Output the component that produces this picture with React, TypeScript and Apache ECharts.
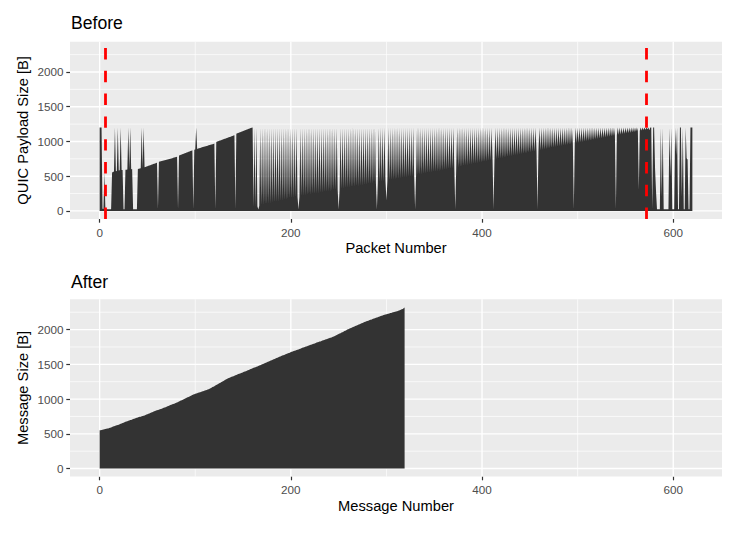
import React, { useEffect, useRef } from "react";
import * as echarts from "echarts";

// "Before": QUIC payload size of each packet (index = packet number)
const PACKET_SIZES = [
  1200, 1200, 1200, 30, 28, 560, 30, 25, 25, 25,
  26, 25, 25, 555, 562, 566, 1200, 571, 575, 1200,
  582, 586, 1200, 589, 590, 25, 26, 592, 594, 596,
  1200, 598, 1200, 600, 602, 25, 25, 24, 25, 25,
  604, 607, 610, 613, 1200, 618, 1200, 630, 634, 639,
  644, 649, 654, 659, 664, 669, 674, 679, 684, 689,
  692, 25, 708, 712, 715, 719, 722, 726, 729, 733,
  737, 740, 744, 748, 752, 756, 760, 764, 768, 772,
  776, 779, 25, 797, 802, 808, 813, 818, 823, 829,
  834, 840, 845, 851, 857, 862, 868, 874, 25, 880,
  885, 1200, 890, 898, 902, 906, 911, 915, 919, 923,
  927, 931, 935, 940, 944, 948, 952, 957, 961, 965,
  970, 25, 994, 999, 1004, 1009, 1014, 1019, 1024, 1029,
  1034, 1039, 1044, 1049, 1054, 1059, 1064, 1069, 1074, 1079,
  1085, 1090, 25, 1112, 1117, 1123, 1128, 1134, 1139, 1144,
  1150, 1155, 1161, 1166, 1172, 1177, 1183, 1188, 1194, 1199,
  1200, 55, 1200, 61, 1200, 68, 20, 74, 1200, 80,
  1200, 86, 1200, 93, 1200, 99, 1200, 105, 1200, 111,
  1200, 118, 1200, 124, 1200, 130, 1200, 136, 1200, 143,
  1200, 149, 1200, 155, 1200, 161, 1200, 168, 1200, 174,
  1200, 180, 1200, 186, 1200, 193, 1200, 199, 20, 205,
  1200, 210, 1200, 215, 1200, 220, 1200, 225, 1200, 230,
  1200, 235, 1200, 240, 1200, 245, 1200, 250, 1200, 255,
  1200, 260, 1200, 265, 1200, 270, 1200, 275, 1200, 280,
  1200, 285, 1200, 290, 1200, 295, 1200, 300, 1200, 305,
  20, 310, 1200, 315, 1200, 320, 1200, 325, 1200, 330,
  1200, 335, 1200, 340, 1200, 345, 1200, 350, 1200, 355,
  1200, 360, 1200, 365, 1200, 370, 1200, 375, 1200, 380,
  1200, 385, 1200, 390, 1200, 395, 1200, 400, 1200, 405,
  20, 410, 1200, 415, 1200, 420, 1200, 425, 1200, 430,
  150, 435, 1200, 441, 1200, 446, 1200, 451, 1200, 456,
  1200, 461, 1200, 466, 1200, 471, 1200, 476, 1200, 481,
  1200, 486, 1200, 491, 1200, 496, 1200, 501, 1200, 506,
  20, 511, 1200, 516, 1200, 521, 1200, 526, 1200, 531,
  1200, 536, 1200, 541, 1200, 546, 1200, 552, 1200, 557,
  1200, 563, 1200, 569, 1200, 574, 1200, 580, 1200, 586,
  1200, 591, 1200, 597, 1200, 603, 1200, 608, 1200, 614,
  1200, 620, 20, 625, 1200, 631, 1200, 637, 1200, 642,
  1200, 648, 1200, 653, 1200, 659, 1200, 665, 1200, 670,
  1200, 676, 1200, 682, 1200, 687, 1200, 693, 1200, 699,
  1200, 704, 1200, 710, 1200, 716, 1200, 721, 1200, 727,
  1200, 733, 20, 738, 1200, 744, 1200, 750, 1200, 755,
  1200, 761, 1200, 767, 1200, 772, 1200, 778, 1200, 784,
  1200, 789, 1200, 795, 1200, 801, 1200, 806, 1200, 812,
  1200, 817, 1200, 823, 1200, 829, 1200, 834, 1200, 840,
  1200, 846, 1200, 851, 1200, 857, 1200, 863, 20, 868,
  1200, 874, 1200, 880, 1200, 885, 1200, 891, 1200, 897,
  1200, 902, 1200, 908, 1200, 914, 1200, 919, 1200, 925,
  1200, 930, 1200, 935, 1200, 941, 1200, 946, 1200, 951,
  1200, 957, 1200, 962, 1200, 967, 20, 973, 1200, 978,
  1200, 983, 1200, 989, 1200, 994, 1200, 999, 1200, 1005,
  1200, 1010, 1200, 1015, 1200, 1021, 1200, 1026, 1200, 1031,
  1200, 1037, 1200, 1042, 1200, 1047, 1200, 1053, 1200, 1058,
  1200, 1063, 1200, 1069, 1200, 1074, 1200, 1079, 1200, 1085,
  20, 1090, 1200, 1095, 1200, 1101, 1200, 1106, 1200, 1111,
  1200, 1117, 1200, 1122, 1200, 1127, 1200, 1133, 1200, 1138,
  1200, 1143, 1200, 1149, 300, 1154, 1200, 1159, 1200, 1165,
  1200, 1170, 1200, 1175, 1200, 1160, 1200, 1200, 30, 1200,
  1200, 600, 280, 25, 25, 25, 25, 1200, 200, 1200,
  25, 25, 25, 25, 25, 25, 1200, 500, 1200, 25,
  25, 25, 1200, 800, 1200, 25, 25, 1200, 1200, 200,
  1200, 25, 25, 1200, 760, 740, 25, 25, 1200, 1200, 1200,
];

// "After": size of each message (index = message number)
const MESSAGE_SIZES = [
  551, 552, 555, 557, 561, 564, 568, 571, 575, 578,
  582, 588, 592, 598, 604, 608, 613, 619, 623, 628,
  632, 639, 644, 648, 655, 660, 666, 672, 677, 682,
  688, 693, 697, 700, 706, 712, 716, 720, 727, 731,
  736, 741, 744, 747, 751, 756, 760, 765, 772, 777,
  783, 790, 794, 799, 806, 812, 816, 823, 830, 834,
  840, 844, 848, 853, 857, 861, 868, 874, 879, 884,
  891, 897, 901, 907, 914, 918, 924, 930, 934, 939,
  946, 951, 957, 965, 972, 978, 984, 991, 999, 1005,
  1010, 1018, 1026, 1031, 1037, 1045, 1053, 1058, 1065, 1070,
  1076, 1079, 1084, 1090, 1094, 1097, 1103, 1109, 1112, 1116,
  1122, 1128, 1131, 1137, 1143, 1149, 1155, 1163, 1172, 1178,
  1185, 1194, 1203, 1209, 1218, 1227, 1233, 1242, 1251, 1257,
  1265, 1275, 1282, 1289, 1297, 1304, 1308, 1314, 1321, 1325,
  1330, 1337, 1342, 1346, 1353, 1359, 1363, 1368, 1375, 1380,
  1385, 1392, 1398, 1402, 1409, 1415, 1419, 1426, 1432, 1436,
  1442, 1449, 1453, 1458, 1466, 1470, 1475, 1483, 1488, 1493,
  1501, 1506, 1511, 1519, 1524, 1529, 1537, 1542, 1547, 1555,
  1560, 1565, 1573, 1578, 1583, 1591, 1596, 1601, 1609, 1614,
  1619, 1627, 1631, 1636, 1643, 1648, 1652, 1660, 1664, 1668,
  1676, 1680, 1684, 1691, 1695, 1699, 1706, 1710, 1715, 1722,
  1726, 1732, 1738, 1741, 1747, 1753, 1756, 1762, 1768, 1771,
  1777, 1783, 1786, 1792, 1798, 1801, 1807, 1813, 1816, 1822,
  1827, 1830, 1836, 1842, 1845, 1851, 1857, 1860, 1866, 1871,
  1875, 1881, 1884, 1889, 1896, 1901, 1907, 1916, 1921, 1928,
  1937, 1942, 1949, 1958, 1963, 1970, 1979, 1984, 1991, 2000,
  2005, 2011, 2019, 2023, 2029, 2037, 2041, 2047, 2055, 2059,
  2065, 2073, 2077, 2083, 2091, 2095, 2101, 2109, 2113, 2119,
  2125, 2128, 2134, 2140, 2143, 2149, 2155, 2158, 2164, 2170,
  2173, 2179, 2185, 2188, 2194, 2200, 2203, 2209, 2214, 2216,
  2221, 2226, 2228, 2233, 2238, 2240, 2245, 2250, 2252, 2257,
  2262, 2264, 2269, 2274, 2277, 2284, 2291, 2298, 2308, 2318,
];

const CAPTURE_MARKERS = [6, 572];
const X_TICKS = [0, 200, 400, 600];
const X_MINOR = [100, 300, 500];
const Y_TICKS = [0, 500, 1000, 1500, 2000];
const Y_MINOR = [250, 750, 1250, 1750, 2250];
const PANEL_TITLES = ["Before", "After"];
const X_NAMES = ["Packet Number", "Message Number"];
const Y_NAMES = ["QUIC Payload Size [B]", "Message Size [B]"];

const FONT = "'Liberation Sans', Arial, Helvetica, sans-serif";
const X_MIN = -31;
const X_MAX = 651;
const Y_MIN = -116;
const Y_MAX = 2436;

const GRID_TOPS = [41.7, 299.3];
const PANEL_H = 177.3;
const TITLE_Y = [23, 282];

function gridLineData() {
  return [
    ...X_TICKS.map((v) => [0, v, 1]),
    ...X_MINOR.map((v) => [0, v, 0]),
    ...Y_TICKS.map((v) => [1, v, 1]),
    ...Y_MINOR.map((v) => [1, v, 0]),
  ];
}

function renderGridLine(params: any, api: any) {
  const orient = api.value(0);
  const v = api.value(1);
  const major = api.value(2);
  const cs = params.coordSys;
  const style = { stroke: "#FFFFFF", lineWidth: major ? 1.35 : 0.7 };
  if (orient === 0) {
    const x = api.coord([v, 0])[0];
    return { type: "line", silent: true, shape: { x1: x, y1: cs.y, x2: x, y2: cs.y + cs.height }, style };
  }
  const y = api.coord([0, v])[1];
  return { type: "line", silent: true, shape: { x1: cs.x, y1: y, x2: cs.x + cs.width, y2: y }, style };
}

const plainNumber = (v: number) => String(v);

export default function App() {
  const ref = useRef<HTMLDivElement>(null);
  useEffect(() => {
    if (!ref.current) return;
    const chart = echarts.init(ref.current, null, { renderer: "svg" });
    const panels = [0, 1];
    const option: any = {
      animation: false,
      backgroundColor: "#FFFFFF",
      grid: panels.map((i) => ({
        show: true,
        backgroundColor: "#EBEBEB",
        borderWidth: 0,
        left: 70,
        top: GRID_TOPS[i],
        width: 652,
        height: PANEL_H,
        containLabel: false,
      })),
      xAxis: panels.map((i) => ({
        type: "value",
        gridIndex: i,
        min: X_MIN,
        max: X_MAX,
        name: X_NAMES[i],
        nameLocation: "middle",
        nameGap: 21.6,
        nameMoveOverlap: false,
        nameTextStyle: { fontSize: 14.7, color: "#000000", fontFamily: FONT },
        axisLine: { show: false, onZero: false },
        axisTick: { show: true, length: 3.7, customValues: X_TICKS, lineStyle: { color: "#333333", width: 1.2 } },
        axisLabel: { customValues: X_TICKS, formatter: plainNumber, margin: 7, color: "#4D4D4D", fontSize: 11.7, fontFamily: FONT },
        splitLine: { show: false },
        minorSplitLine: { show: false },
      })),
      yAxis: panels.map((i) => ({
        type: "value",
        gridIndex: i,
        min: Y_MIN,
        max: Y_MAX,
        name: Y_NAMES[i],
        nameLocation: "middle",
        nameGap: 40,
        nameRotate: 90,
        nameMoveOverlap: false,
        nameTextStyle: { fontSize: 14.7, color: "#000000", fontFamily: FONT },
        axisLine: { show: false, onZero: false },
        axisTick: { show: true, length: 3.7, customValues: Y_TICKS, lineStyle: { color: "#333333", width: 1.2 } },
        axisLabel: { customValues: Y_TICKS, formatter: plainNumber, margin: 6.6, color: "#4D4D4D", fontSize: 11.7, fontFamily: FONT },
        splitLine: { show: false },
      })),
      graphic: panels.map((i) => ({
        type: "text",
        x: 71,
        y: TITLE_Y[i],
        silent: true,
        style: {
          text: PANEL_TITLES[i],
          fontSize: 17.6,
          fontFamily: FONT,
          fill: "#000000",
          align: "left",
          verticalAlign: "middle",
        },
      })),
      series: [
        ...panels.map((i) => ({
          type: "custom",
          xAxisIndex: i,
          yAxisIndex: i,
          z: 1,
          silent: true,
          renderItem: renderGridLine,
          data: gridLineData(),
        })),
        {
          type: "line",
          xAxisIndex: 0,
          yAxisIndex: 0,
          z: 2,
          silent: true,
          symbol: "none",
          showSymbol: false,
          lineStyle: { width: 0, opacity: 0 },
          areaStyle: { color: "#333333", opacity: 1 },
          data: PACKET_SIZES.map((v, i) => [i, v]),
          markLine: {
            silent: true,
            symbol: ["none", "none"],
            label: { show: false },
            lineStyle: { color: "#FF0000", width: 2.8, type: [11.4, 11.4], opacity: 1 },
            data: CAPTURE_MARKERS.map((x) => ({ xAxis: x })),
          },
        },
        {
          type: "line",
          xAxisIndex: 1,
          yAxisIndex: 1,
          z: 2,
          silent: true,
          symbol: "none",
          showSymbol: false,
          lineStyle: { width: 0, opacity: 0 },
          areaStyle: { color: "#333333", opacity: 1 },
          data: MESSAGE_SIZES.map((v, i) => [i, v]),
        },
      ],
    };
    chart.setOption(option);
    return () => chart.dispose();
  }, []);
  return (
    <div
      ref={ref}
      style={{ position: "absolute", left: 0, top: 0, width: 743, height: 539 }}
    />
  );
}
